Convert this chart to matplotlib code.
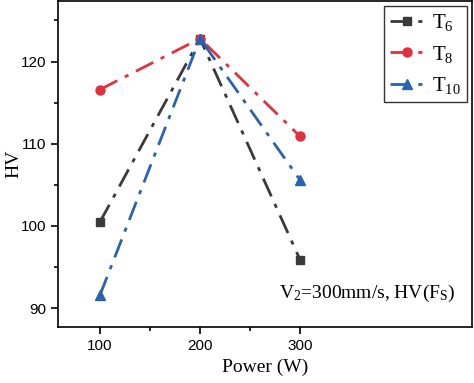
import matplotlib.pyplot as plt

# data
power = [100, 200, 300]
t6 = [100.5, 122.8, 95.9]
t8 = [116.6, 122.8, 110.9]
t10 = [91.6, 122.8, 105.6]

plt.rcParams['font.family'] = 'Liberation Sans'
plt.rcParams['mathtext.fontset'] = 'custom'
plt.rcParams['mathtext.rm'] = 'Liberation Serif'
plt.rcParams['mathtext.it'] = 'Liberation Serif:italic'

fig = plt.figure(figsize=(4.74, 3.83), dpi=100)
ax = fig.add_axes([0.1224, 0.146, 0.8734, 0.852])

ls = (0, (7, 3, 1.5, 3))
ax.plot(power, t6, color='#3a3a3a', marker='s', ms=6, lw=2, ls=ls, label=r'T$_6$')
ax.plot(power, t8, color='#e0323c', marker='o', ms=6.5, lw=2, ls=ls, label=r'T$_8$')
ax.plot(power, t10, color='#2b62b0', marker='^', ms=7, lw=2, ls=ls, label=r'T$_{10}$')

ax.set_xlim(58, 472)
ax.set_ylim(87.7, 127.4)
ax.set_xticks([100, 200, 300])
ax.set_xticks([150, 250], minor=True)
ax.set_yticks([90, 100, 110, 120])
ax.set_yticks([95, 105, 115, 125], minor=True)
ax.tick_params(which='both', direction='out', labelsize=11, width=1.2)
ax.tick_params(which='major', length=5)
ax.tick_params(which='minor', length=3)
for s in ax.spines.values():
    s.set_linewidth(1.2)

ax.set_xlabel('Power (W)', family='Liberation Serif', fontsize=14)
ax.set_ylabel('HV', family='Liberation Serif', fontsize=14)
ax.yaxis.set_label_coords(-0.085, 0.5)

leg = ax.legend(loc='upper right', prop={'family': 'Liberation Serif', 'size': 15},
                fancybox=False, edgecolor='black', handlelength=1.6,
                borderaxespad=0.25, labelspacing=0.5, handletextpad=0.4,
                borderpad=0.3)
leg.get_frame().set_linewidth(1.0)

ax.text(0.96, 0.07, r'V$_2$=300mm/s, HV(F$_\mathrm{S}$)', transform=ax.transAxes,
        ha='right', va='bottom', family='Liberation Serif', fontsize=14)

fig.savefig('out.png', dpi=100)
